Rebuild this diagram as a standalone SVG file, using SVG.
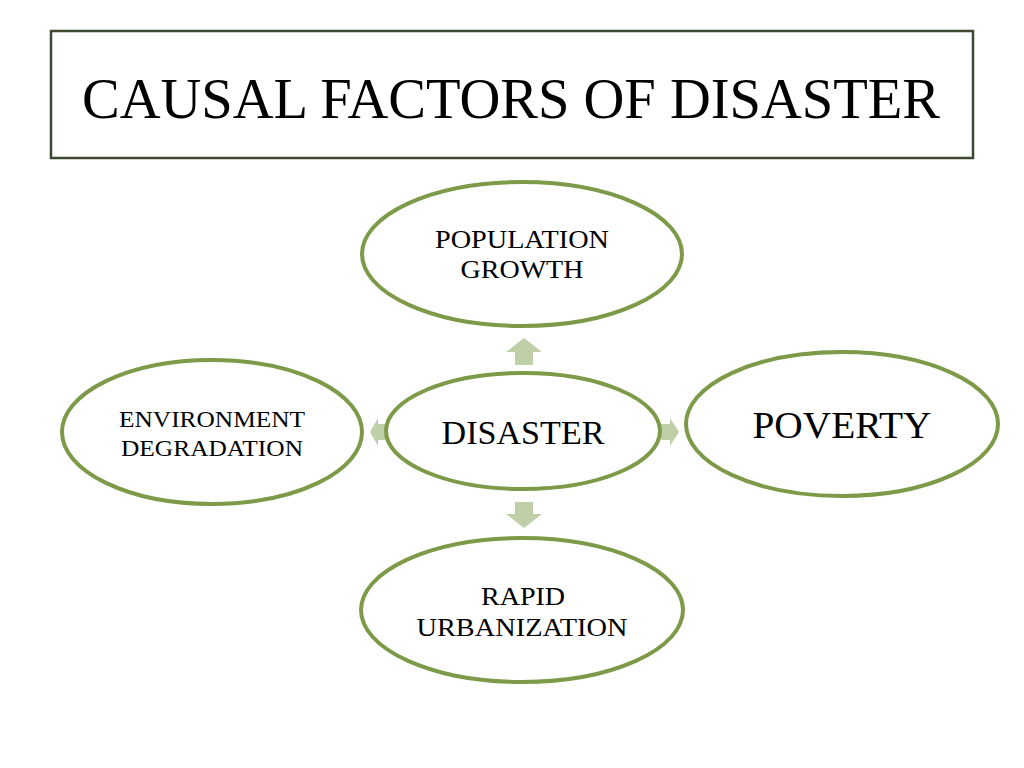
<svg xmlns="http://www.w3.org/2000/svg" width="1024" height="768" viewBox="0 0 1024 768">
<style>
.n{fill:#fff;stroke:#7c9a48;stroke-width:4}
.t{font-family:"Liberation Serif",serif;fill:#000;text-anchor:middle}
.a{fill:#bfd0a8}
</style>
<rect width="1024" height="768" fill="#fff"/>
<g id="title"><rect x="51" y="31" width="922" height="127" fill="#fff" stroke="#3e4a30" stroke-width="2.5"/>
<text class="t" x="511" y="118" font-size="56" textLength="858" lengthAdjust="spacingAndGlyphs">CAUSAL FACTORS OF DISASTER</text></g>
<g id="connectors">
<polygon class="a" points="524,338 542,352 533,352 533,365 515,365 515,352 506,352"/>
<polygon class="a" points="524,528 542,514 533,514 533,502 515,502 515,514 506,514"/>
<polygon class="a" points="370,432 378,418 378,424 386,424 386,440 378,440 378,446"/>
<polygon class="a" points="679,432 670,418 670,424 661,424 661,440 670,440 670,446"/>
</g>
<g id="population"><ellipse class="n" cx="522" cy="254" rx="160" ry="72"/>
<text class="t" x="522" y="248" font-size="25" textLength="174" lengthAdjust="spacingAndGlyphs">POPULATION</text><text class="t" x="522" y="278" font-size="25" textLength="123" lengthAdjust="spacingAndGlyphs">GROWTH</text></g>
<g id="disaster"><ellipse class="n" cx="523" cy="431" rx="137" ry="58"/>
<text class="t" x="523" y="444" font-size="34" textLength="163" lengthAdjust="spacingAndGlyphs">DISASTER</text></g>
<g id="environment"><ellipse class="n" cx="212" cy="432" rx="150" ry="72"/>
<text class="t" x="212" y="427" font-size="24" textLength="186" lengthAdjust="spacingAndGlyphs">ENVIRONMENT</text><text class="t" x="212" y="456" font-size="24" textLength="182" lengthAdjust="spacingAndGlyphs">DEGRADATION</text></g>
<g id="poverty"><ellipse class="n" cx="842" cy="424" rx="156" ry="72"/>
<text class="t" x="842" y="438" font-size="38" textLength="179" lengthAdjust="spacingAndGlyphs">POVERTY</text></g>
<g id="urbanization"><ellipse class="n" cx="522" cy="610" rx="161" ry="72"/>
<text class="t" x="523" y="605" font-size="25" textLength="84" lengthAdjust="spacingAndGlyphs">RAPID</text><text class="t" x="522" y="636" font-size="25" textLength="211" lengthAdjust="spacingAndGlyphs">URBANIZATION</text></g>
</svg>
